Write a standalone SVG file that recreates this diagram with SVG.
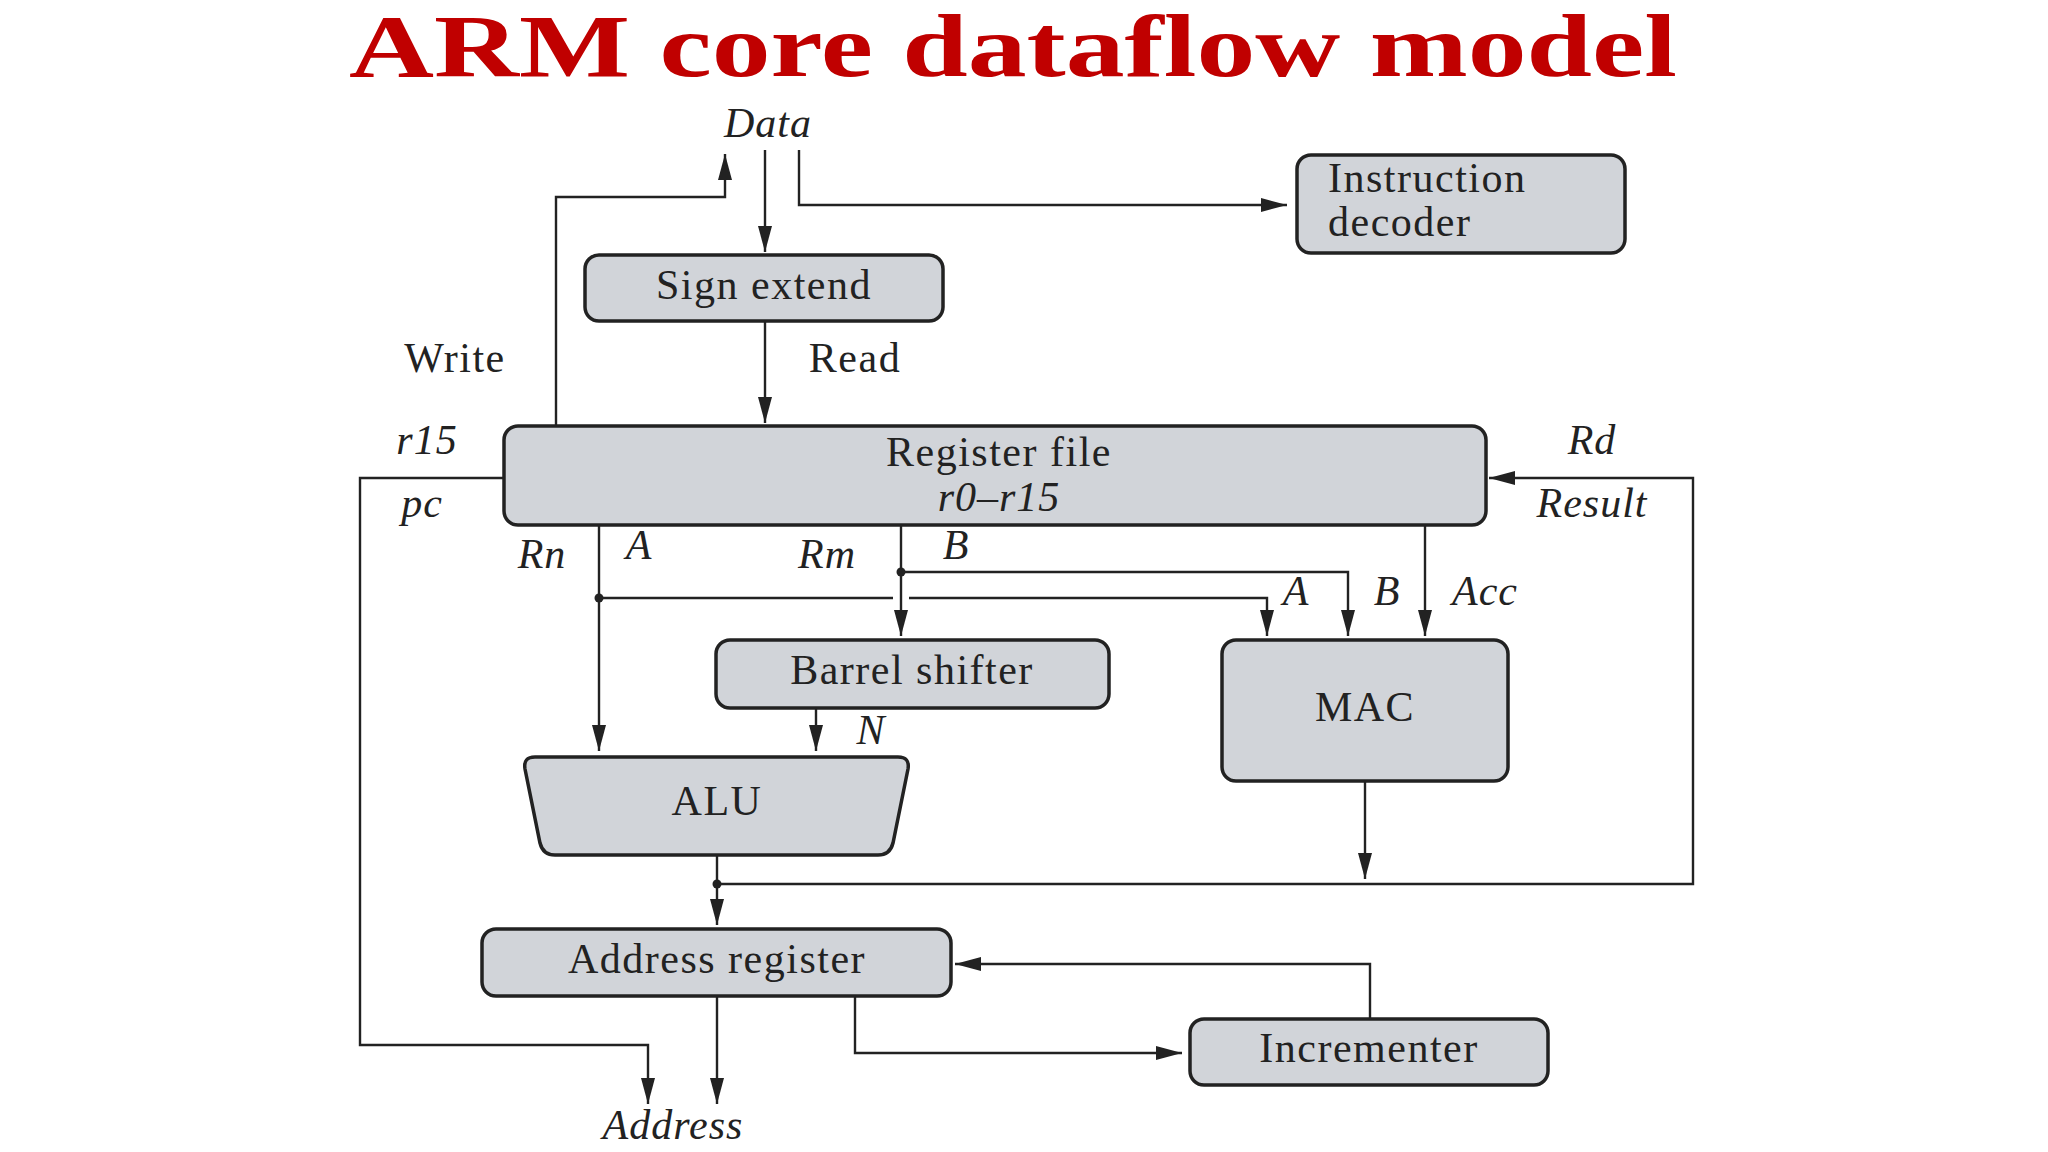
<svg xmlns="http://www.w3.org/2000/svg" width="2048" height="1152" viewBox="0 0 2048 1152">
<style>
.box{fill:#d1d4d9;stroke:#222;stroke-width:3.5}
.t{font-family:"Liberation Serif",serif;font-size:42px;letter-spacing:1.5px;fill:#222;text-anchor:middle}
.i{font-family:"Liberation Serif",serif;font-style:italic;font-size:42px;letter-spacing:1px;fill:#222;text-anchor:middle}
.c{fill:none;stroke:#222;stroke-width:2.4;marker-end:url(#a)}
</style>
<defs><marker id="a" viewBox="0 0 10 10" refX="10" refY="5" markerWidth="26" markerHeight="14" orient="auto" markerUnits="userSpaceOnUse" preserveAspectRatio="none"><path d="M0,0 L10,5 L0,10 z" fill="#222"/></marker></defs>
<rect width="2048" height="1152" fill="#fff"/>
<text x="1013" y="76" font-family="Liberation Serif,serif" font-weight="bold" font-size="88" fill="#c00000" text-anchor="middle" textLength="1328" lengthAdjust="spacingAndGlyphs">ARM core dataflow model</text>
<g id="connectors">
<path class="c" d="M765,150 V252"/>
<path class="c" d="M799,150 V205 H1287"/>
<path class="c" d="M556,426 V197 H725 V154"/>
<path class="c" d="M765,321 V423"/>
<path class="c" d="M504,478 H360 V1045 H648 V1104"/>
<path class="c" d="M599,525 V751"/>
<path class="c" d="M599,598 H893 M909,598 H1267 V636"/>
<path class="c" d="M901,525 V636"/>
<path class="c" d="M901,572 H1348 V636"/>
<path class="c" d="M1425,525 V636"/>
<path class="c" d="M816,708 V751"/>
<path class="c" d="M717,855 V925"/>
<path class="c" d="M1365,781 V879"/>
<path class="c" d="M717,884 H1693 V478 H1489"/>
<path class="c" d="M717,996 V1104"/>
<path class="c" d="M855,996 V1053 H1182"/>
<path class="c" d="M1370,1019 V964 H955"/>
<circle cx="599" cy="598" r="4.5" fill="#222"/>
<circle cx="901" cy="572" r="4.5" fill="#222"/>
<circle cx="717" cy="884" r="4.5" fill="#222"/>
</g>
<g id="decoder"><rect class="box" x="1297" y="155" width="328" height="98" rx="14"/><text class="t" x="1328" y="192" style="text-anchor:start">Instruction</text><text class="t" x="1328" y="236" style="text-anchor:start">decoder</text></g>
<g id="sign"><rect class="box" x="585" y="255" width="358" height="66" rx="14"/><text class="t" x="764" y="299">Sign extend</text></g>
<g id="regfile"><rect class="box" x="504" y="426" width="982" height="99" rx="14"/><text class="t" x="999" y="466">Register file</text><text class="i" x="999" y="511">r0–r15</text></g>
<g id="barrel"><rect class="box" x="716" y="640" width="393" height="68" rx="14"/><text class="t" x="912" y="684">Barrel shifter</text></g>
<g id="mac"><rect class="box" x="1222" y="640" width="286" height="141" rx="14"/><text class="t" x="1365" y="721">MAC</text></g>
<g id="alu"><path class="box" d="M535,757 H898 Q910,757 908,769 L893,843 Q890,855 878,855 H555 Q543,855 540,843 L525,769 Q523,757 535,757 Z"/><text class="t" x="717" y="815">ALU</text></g>
<g id="addrreg"><rect class="box" x="482" y="929" width="469" height="67" rx="14"/><text class="t" x="717" y="973">Address register</text></g>
<g id="inc"><rect class="box" x="1190" y="1019" width="358" height="66" rx="14"/><text class="t" x="1369" y="1062">Incrementer</text></g>
<g id="labels">
<text class="i" x="768" y="137">Data</text>
<text class="i" x="673" y="1139">Address</text>
<text class="t" x="455" y="372">Write</text>
<text class="t" x="855" y="372">Read</text>
<text class="i" x="427" y="454">r15</text>
<text class="i" x="422" y="517">pc</text>
<text class="i" x="1592" y="454">Rd</text>
<text class="i" x="1592" y="517">Result</text>
<text class="i" x="542" y="568">Rn</text>
<text class="i" x="639" y="559">A</text>
<text class="i" x="827" y="568">Rm</text>
<text class="i" x="956" y="559">B</text>
<text class="i" x="1296" y="605">A</text>
<text class="i" x="1387" y="605">B</text>
<text class="i" x="1485" y="605">Acc</text>
<text class="i" x="871" y="744">N</text>
</g>
</svg>
